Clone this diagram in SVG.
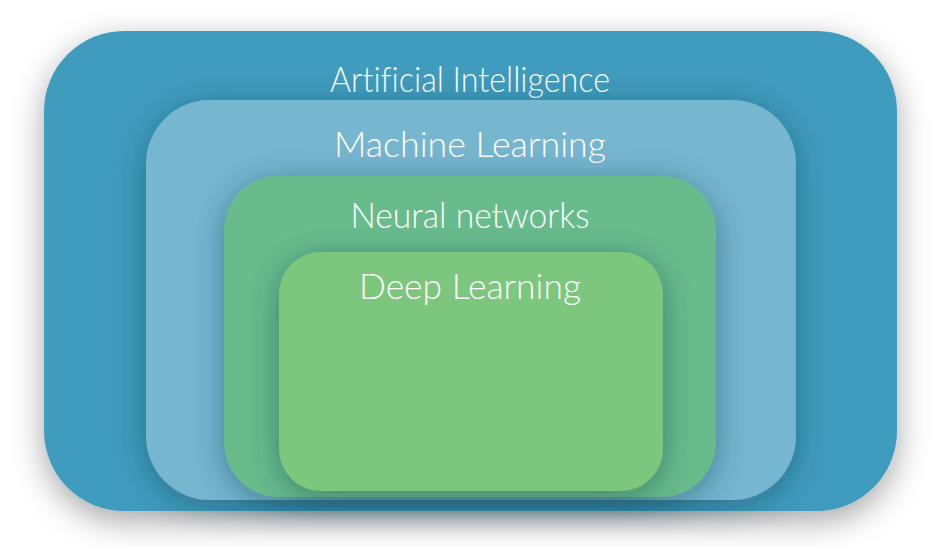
<svg xmlns="http://www.w3.org/2000/svg" width="944" height="547" viewBox="0 0 944 547">
  <defs>
    <filter id="outerShadow" x="-20%" y="-20%" width="140%" height="150%">
      <feDropShadow dx="0" dy="10" stdDeviation="16" flood-color="#000" flood-opacity="0.35"/>
    </filter>
    <filter id="innerShadow" x="-20%" y="-20%" width="140%" height="150%">
      <feDropShadow dx="0" dy="6" stdDeviation="16" flood-color="#1b3a4a" flood-opacity="0.45"/>
    </filter>
  </defs>
  <style>
    .lbl { font-family: Lato, "Open Sans", "Liberation Sans", sans-serif; font-weight: 300; font-size: 36px; fill: #ffffff; text-anchor: middle; font-variant-ligatures: none; }
  </style>
  <rect width="944" height="547" fill="#ffffff"/>
  <g id="node-ai">
    <rect x="44" y="31" width="853" height="480" rx="80" ry="80" fill="#419CBE" filter="url(#outerShadow)"/>
    <text class="lbl" x="470" y="92" textLength="280" lengthAdjust="spacingAndGlyphs">Artificial Intelligence</text>
  </g>
  <g id="node-ml">
    <rect x="146" y="100" width="650" height="400" rx="64" ry="64" fill="#77B6CF" filter="url(#innerShadow)"/>
    <text class="lbl" x="470" y="157" textLength="272" lengthAdjust="spacingAndGlyphs">Machine Learning</text>
  </g>
  <g id="node-nn">
    <rect x="224" y="176" width="492" height="321" rx="55" ry="55" fill="#67BC8C" filter="url(#innerShadow)"/>
    <text class="lbl" x="470" y="228" textLength="239" lengthAdjust="spacingAndGlyphs">Neural networks</text>
  </g>
  <g id="node-dl">
    <rect x="279" y="252" width="384" height="239" rx="42" ry="42" fill="#7DC67E" filter="url(#innerShadow)"/>
    <text class="lbl" x="470" y="299" textLength="222" lengthAdjust="spacingAndGlyphs">Deep Learning</text>
  </g>
  <g id="connectors"/>
</svg>
